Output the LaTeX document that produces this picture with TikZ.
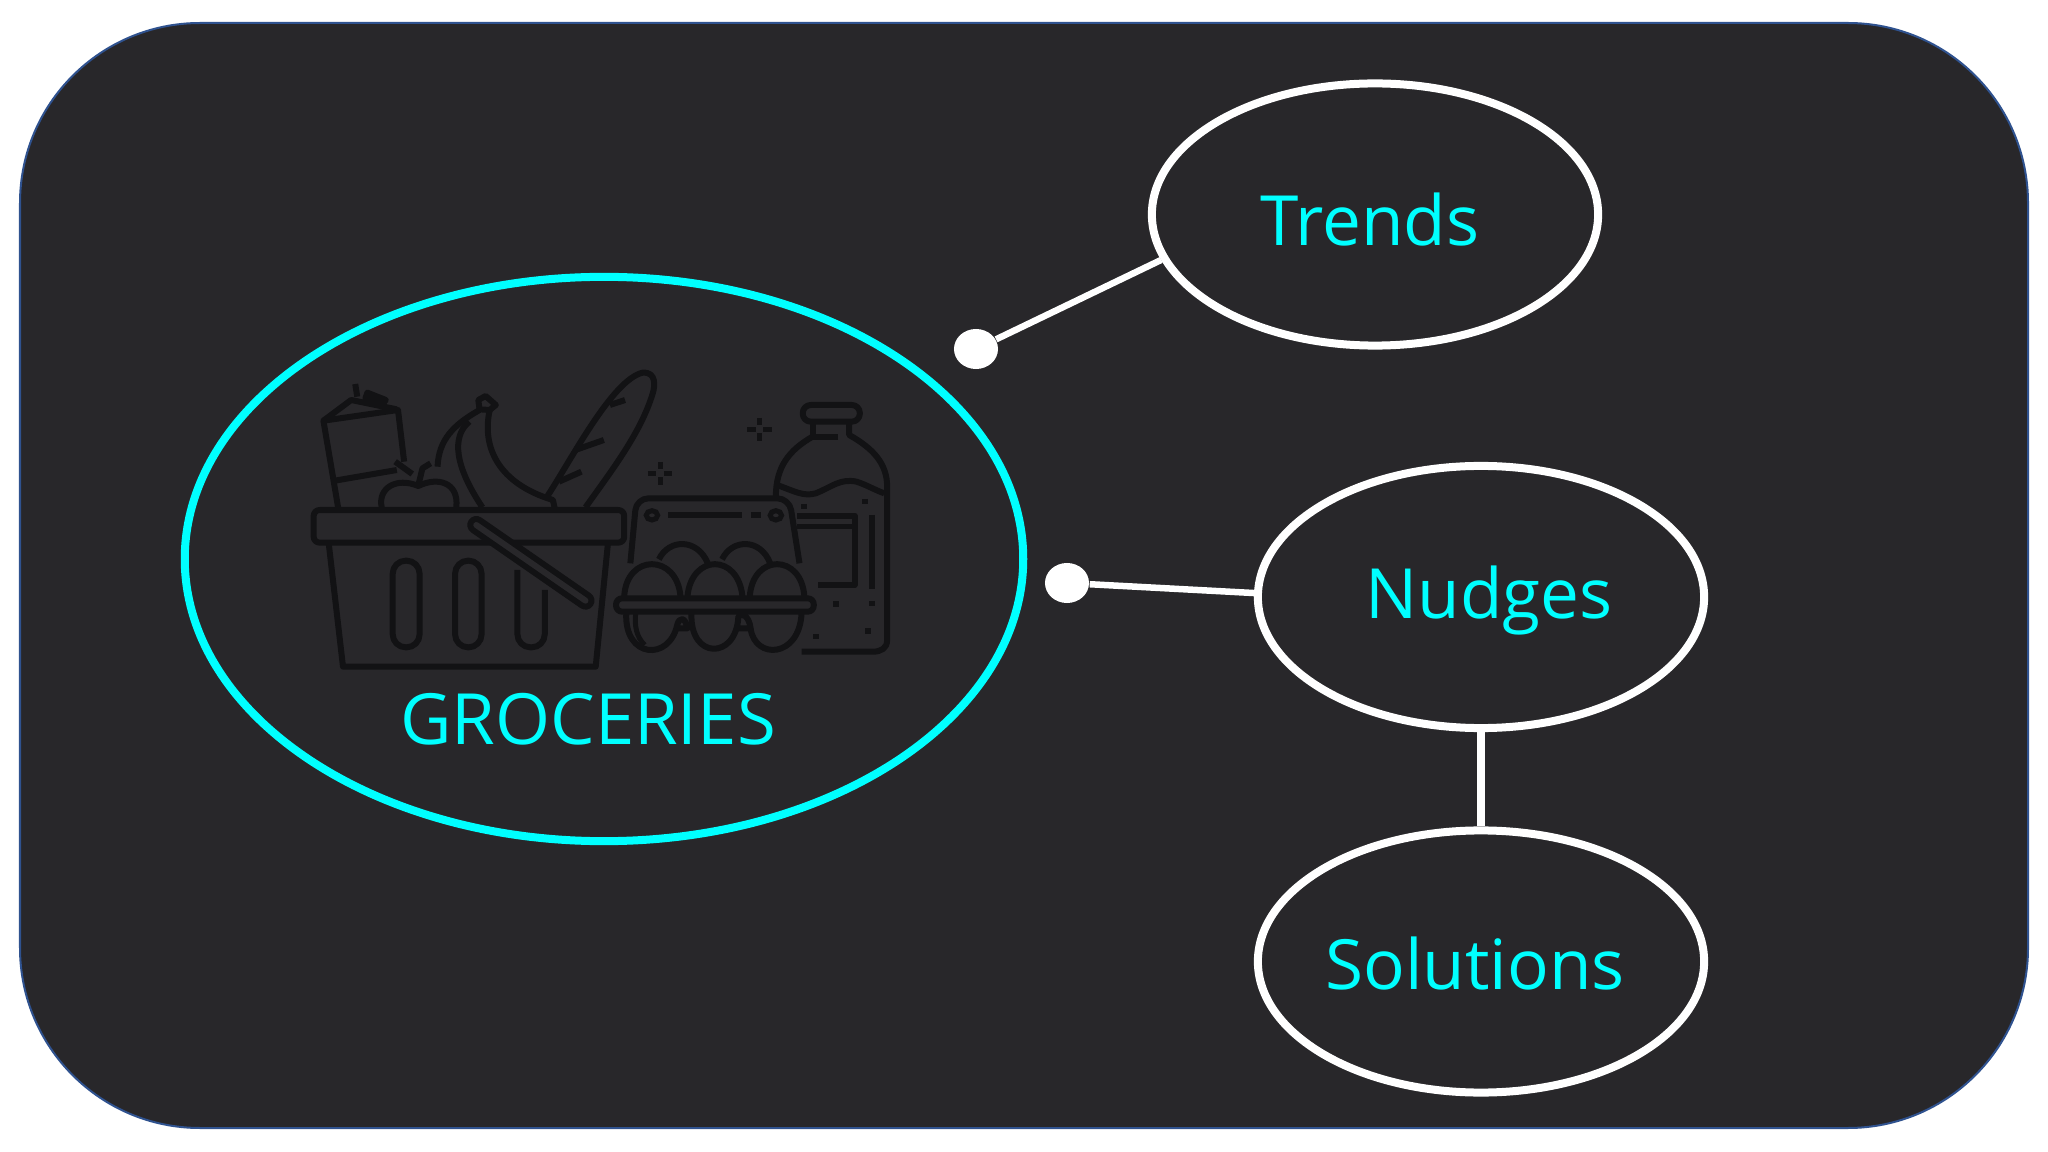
\documentclass[tikz,border=0pt]{standalone}
\usepackage{fontspec}
\setmainfont{Open Sans}
\usetikzlibrary{shapes.geometric}
\definecolor{cardfill}{HTML}{28272A}
\definecolor{cardline}{HTML}{2F528F}
\definecolor{iconline}{HTML}{121214}
\definecolor{aqua}{HTML}{00FFFF}
\tikzset{
  bubble/.style={draw=white, ellipse, line width=.08cm, minimum width=4.46cm, minimum height=2.62cm, inner sep=0pt},
  mainbubble/.style={draw=aqua, ellipse, line width=.08cm, minimum width=8.38cm, minimum height=5.64cm, inner sep=0pt},
  bubbletext/.style={text=aqua, font=\fontsize{19.7}{24}\selectfont, inner sep=0pt},
  dot/.style={fill=white, ellipse, minimum width=.44cm, minimum height=.40cm, inner sep=0pt},
  link/.style={white, line width=.065cm},
  icon/.style={iconline, line width=.06cm, line join=round},
  iconfine/.style={iconline, line width=.05cm}
}
\begin{document}
\begin{tikzpicture}[x=.01cm, y=-.01cm]
\useasboundingbox (0,0) rectangle (2048,1152);
\draw [draw=cardline, fill=cardfill, line width=.02cm, rounded corners=1.8cm] (20,23) rectangle (2028,1128);

\begin{scope}[shift={(290,350)}, x=.00408cm, y=-.01cm/3]
% carton
\draw [icon] (118,472) -- (82,212) -- (265,180) -- (280,335);
\draw [icon] (82,212) -- (150,150) -- (262,178);
\draw [icon] (110,392) -- (262,360);
\draw [icon] (160,102) -- (165,140);
\draw [icon] (190,128) -- (235,150) -- (225,165) -- (185,145) -- cycle;
% apple
\draw [icon] (225,472) .. controls (215,415) and (260,380) .. (315,408) .. controls (360,380) and (415,395) .. (408,472);
\draw [icon] (258,335) -- (300,372) (315,405) -- (325,355) -- (345,340);
% banana
\draw [icon] (362,350) .. controls (365,270) and (400,225) .. (465,180);
\draw [icon] (440,215) .. controls (395,260) and (405,350) .. (472,472);
\draw [icon] (490,180) .. controls (470,290) and (510,400) .. (645,450) -- (650,478);
\draw [icon] (462,150) -- (480,138) -- (505,165) -- (490,180) -- (465,178) -- cycle;
% baguette
\draw [icon] (628,445) .. controls (690,330) and (790,90) .. (865,68) .. controls (900,65) and (895,110) .. (890,130) .. controls (860,250) and (790,360) .. (725,472);
\draw [icon] (785,165) -- (822,150) (700,300) -- (770,270) (660,395) -- (715,365);
% sparkles
\foreach \cx/\cy in {1152/238, 908/370}{
  \draw [iconfine] (\cx,\cy-35) -- (\cx,\cy-12) (\cx,\cy+12) -- (\cx,\cy+35) (\cx-30,\cy) -- (\cx-9,\cy) (\cx+9,\cy) -- (\cx+30,\cy);
}
% bottle
\draw [icon, rounded corners=.08cm] (1258,165) rectangle (1398,215);
\draw [icon] (1345,260) -- (1282,260) -- (1282,215);
\draw [icon] (1372,215) -- (1372,255) .. controls (1430,295) and (1465,340) .. (1465,410) -- (1465,870) .. controls (1465,895) and (1450,905) .. (1430,905) -- (1255,905);
\draw [icon] (1282,260) .. controls (1225,300) and (1192,350) .. (1192,440);
\draw [icon] (1195,405) .. controls (1240,425) and (1260,440) .. (1290,430) .. controls (1330,410) and (1350,385) .. (1390,395) .. controls (1415,405) and (1435,420) .. (1458,430);
\draw [icon] (1245,497) -- (1385,497) -- (1385,705) -- (1295,705);
\draw [iconfine] (1245,530) -- (1385,530);
\draw [icon] (1428,495) -- (1428,718);
\foreach \dx/\dy in {1260/470, 1410/455, 1340/762, 1428/760, 1290/860, 1418/843}{
  \draw [icon] (\dx,\dy-8) -- (\dx,\dy+8);
}
% eggs
\draw [icon, rounded corners=.12cm] (835,640) -- (850,445) -- (1225,445) -- (1250,640);
\draw [iconfine] (888,496) circle (14) (1192,496) circle (14);
\draw [icon] (928,496) -- (1110,496) (1130,496) -- (1155,496);
\draw [icon] (905,628) .. controls (930,565) and (1000,565) .. (1025,640);
\draw [icon] (1060,628) .. controls (1085,565) and (1155,565) .. (1178,640);
\draw [icon] (820,740) .. controls (825,610) and (950,610) .. (958,740);
\draw [icon] (975,740) .. controls (985,610) and (1100,610) .. (1110,740);
\draw [icon] (1128,740) .. controls (1135,610) and (1255,610) .. (1262,740);
\draw [icon, rounded corners=.06cm] (800,745) rectangle (1285,785);
\draw [icon] (825,790) .. controls (820,925) and (930,935) .. (950,825) .. controls (955,800) and (970,800) .. (975,835) -- (945,835);
\draw [icon] (985,790) .. controls (980,930) and (1095,930) .. (1100,800) .. controls (1105,790) and (1125,790) .. (1130,835) -- (1100,835);
\draw [icon] (1130,835) .. controls (1140,930) and (1250,925) .. (1255,790);
\draw [iconfine] (848,790) .. controls (845,830) and (850,860) .. (870,885);
% basket
\draw [icon, rounded corners=.06cm] (58,480) rectangle (820,578);
\draw [icon] (95,580) -- (130,950) -- (750,950) -- (780,580);
\draw [icon, rounded corners=.13cm] (252,632) rectangle (318,892);
\draw [icon, rounded corners=.13cm] (405,632) rectangle (470,892);
\draw [icon, rounded corners=.13cm] (625,720) -- (625,892) -- (558,892) -- (558,660);
\draw [iconline, line width=.06cm, double=cardfill, double distance=.06cm, line cap=round] (457,525) -- (725,752);
\end{scope}

\node [mainbubble] (groceries) at (604,559) {};
\node [bubble] (trends) at (1375,214.5) {};
\node [bubble] (nudges) at (1481,597) {};
\node [bubble] (solutions) at (1481,961.5) {};
\node [dot] (dotTrends) at (976,349) {};
\node [dot] (dotNudges) at (1067,583) {};

\node [bubbletext, font=\fontsize{20.1}{24}\selectfont] (groceriesText) at (588,719) {GROCERIES};
\node [bubbletext] (trendsText) at (1370,220) {Trends};
\node [bubbletext] (nudgesText) at (1489,601) {Nudges};
\node [bubbletext] (solutionsText) at (1475,964) {Solutions};

\draw [link] (dotTrends) -- (trends.192);
\draw [link] (dotNudges) -- (nudges.179.5);
\draw [link, line width=.08cm] (nudges) -- (solutions);
\end{tikzpicture}
\end{document}
